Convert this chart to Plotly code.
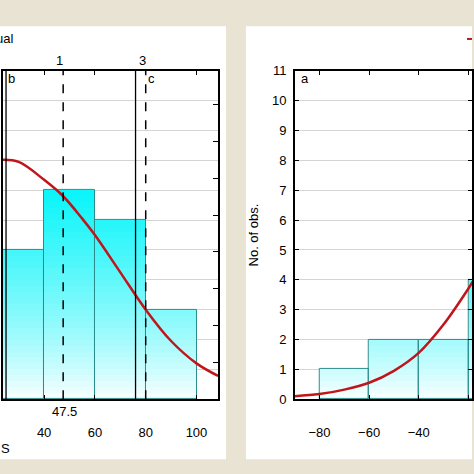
import plotly.graph_objects as go

# ---- data ----
left_bin_left = [20, 40, 60, 80]
left_counts = [5, 7, 6, 3]
left_curve_x = [23.8, 30, 40, 47.5, 55, 60, 70, 80, 90, 100, 108.5]
left_curve_y = [8.02, 7.95, 7.35, 6.8, 6.05, 5.5, 4.25, 3.0, 1.95, 1.2, 0.78]
left_vlines_solid = [25, 76]
left_vlines_dashed = [47.5, 80]
left_xticks = [40, 60, 80, 100]

right_bin_left = [-80, -60, -40, -20]
right_counts = [1, 2, 2, 4]
right_curve_x = [-90, -80, -70, -60, -50, -40, -30, -20, -17]
right_curve_y = [0.1, 0.17, 0.32, 0.55, 0.95, 1.55, 2.5, 3.7, 4.1]
right_xticks = [-80, -60, -40, -20]
right_yticks = list(range(0, 12))

W = H = 474
def px(x): return x / W
def py(y): return 1 - y / H

fig = go.Figure()
BG = "#e8e3d3"
FONT = "Liberation Sans"
CYAN_TOP = (0, 245, 250)
step = 0.2

def gradient_bars(xs, counts, xa, ya, cmax):
    n = int(round(11 / step))
    for k in range(n):
        b = k * step
        hs = [max(0, min(step, c - b)) for c in counts]
        if sum(hs) == 0:
            continue
        t = min(1, (b + step / 2) / cmax)
        col = tuple(int(255 + (c - 255) * (t ** 0.8)) for c in CYAN_TOP)
        fig.add_trace(go.Bar(x=[x + 10 for x in xs], y=hs, base=[b] * len(xs), width=20,
                             marker=dict(color="rgb(%d,%d,%d)" % col, line=dict(width=0)),
                             xaxis=xa, yaxis=ya, showlegend=False, hoverinfo="skip"))
    fig.add_trace(go.Bar(x=[x + 10 for x in xs], y=counts, base=[0] * len(xs), width=20,
                         marker=dict(color="rgba(0,0,0,0)", line=dict(color="#2b8c8c", width=1)),
                         xaxis=xa, yaxis=ya, showlegend=False, hoverinfo="skip"))

gradient_bars(left_bin_left, left_counts, "x", "y", 7.3)
gradient_bars(right_bin_left, right_counts, "x2", "y2", 7.3)

fig.add_trace(go.Scatter(x=left_curve_x, y=left_curve_y, mode="lines", line=dict(color="#c0161b", width=2.5, shape="spline"),
                         xaxis="x", yaxis="y", showlegend=False, cliponaxis=True))
fig.add_trace(go.Scatter(x=right_curve_x, y=right_curve_y, mode="lines", line=dict(color="#c0161b", width=2.5, shape="spline"),
                         xaxis="x2", yaxis="y2", showlegend=False))

shapes = [
    dict(type="rect", xref="paper", yref="paper", x0=0, x1=px(227), y0=py(467), y1=py(20), fillcolor="white", line=dict(width=0), layer="below"),
    dict(type="rect", xref="paper", yref="paper", x0=px(247), x1=1.0, y0=py(467), y1=py(20), fillcolor="white", line=dict(width=0), layer="below"),
    dict(type="line", xref="paper", yref="paper", x0=px(469), x1=1.0, y0=py(33), y1=py(33), line=dict(color="#c0161b", width=2)),
]
for v in left_vlines_solid:
    shapes.append(dict(type="line", xref="x", yref="y", x0=v, x1=v, y0=0, y1=11, line=dict(color="black", width=1.3)))
for v in left_vlines_dashed:
    shapes.append(dict(type="line", xref="x", yref="y", x0=v, x1=v, y0=0, y1=11, line=dict(color="black", width=1.5, dash="dash")))

ax_common = dict(showline=True, linecolor="black", linewidth=1.5, mirror="ticks", ticks="inside",
                 ticklen=4, tickcolor="black", zeroline=False, tickfont=dict(size=13, color="black"))
fig.update_layout(
    width=W, height=H, margin=dict(l=0, r=0, t=0, b=0),
    paper_bgcolor=BG, plot_bgcolor="rgba(0,0,0,0)", barmode="overlay", bargap=0,
    font=dict(family=FONT, size=13, color="black"), shapes=shapes,
    xaxis=dict(domain=[px(3), px(219)], range=[23.8, 108.5], tickvals=left_xticks, showgrid=False, anchor="y",
               ticklabelstandoff=20, **ax_common),
    yaxis=dict(domain=[py(405), py(66)], range=[0, 11], dtick=1, showticklabels=False, ticks="",
               showgrid=True, gridcolor="#d4d4d4", gridwidth=1.2, anchor="x",
               showline=True, linecolor="black", linewidth=1.5, mirror=True, zeroline=False),
    yaxis3=dict(overlaying="y", side="right", anchor="x", range=[0, 339 / 38], dtick=1, showticklabels=False,
                ticks="inside", ticklen=5, tickcolor="black", showgrid=False, zeroline=False),
    xaxis2=dict(domain=[px(296), 1.0], range=[-90, -18.5], tickvals=right_xticks, showgrid=False, anchor="y2",
                ticklabelstandoff=20, **ax_common),
    yaxis2=dict(domain=[py(405), py(66)], range=[0, 11], tickvals=right_yticks, showgrid=True, gridcolor="#d4d4d4",
                gridwidth=1.2, anchor="x2", ticklabelstandoff=4,
                title=dict(text="No. of obs.", font=dict(size=13), standoff=10), **ax_common),
)
fig.add_trace(go.Scatter(x=[None], y=[None], yaxis="y3", xaxis="x", showlegend=False))

ann = [
    dict(text="ual", x=px(15), y=py(33), xanchor="right"),
    dict(text="1", x=px(60), y=py(55)),
    dict(text="3", x=px(143), y=py(55)),
    dict(text="b", x=px(12), y=py(74)),
    dict(text="c", x=px(152), y=py(74)),
    dict(text="47.5", x=px(65), y=py(418)),
    dict(text="S", x=px(6), y=py(456)),
    dict(text="a", x=px(306), y=py(74)),
]
for a in ann:
    fig.add_annotation(xref="paper", yref="paper", showarrow=False, font=dict(size=13, color="black"),
                       yanchor="middle", **({"xanchor": "center"} | a))

fig.write_html("out.html", config={"displayModeBar": False},
               post_script="document.body.style.margin='0';document.body.style.padding='0';")
